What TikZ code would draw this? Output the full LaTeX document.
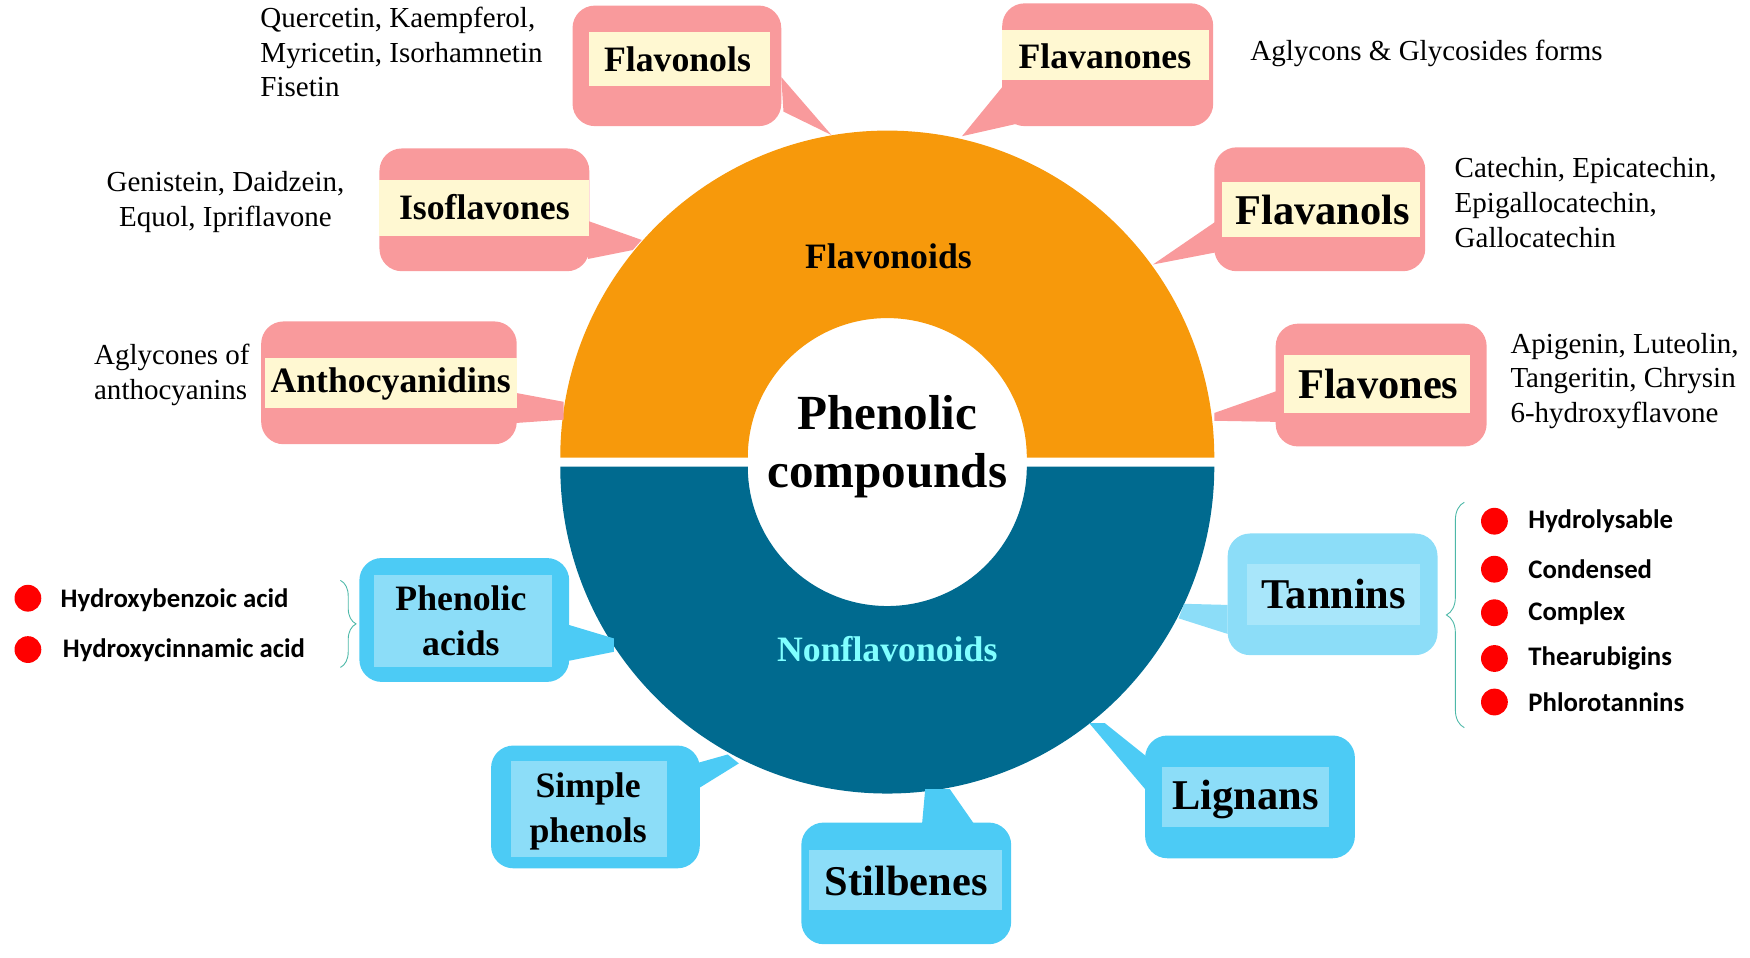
\documentclass[tikz,border=0pt]{standalone}
\usepackage{fontspec}
\setmainfont{Liberation Serif}
\newfontfamily\carlfont{Carlito}
\usetikzlibrary{decorations.pathreplacing}
\definecolor{pinkb}{HTML}{F99A9C}
\definecolor{cream}{HTML}{FFF8D2}
\definecolor{blueb}{HTML}{4CCBF5}
\definecolor{bluel}{HTML}{8CDDF8}
\definecolor{bluet}{HTML}{A8E6FA}
\definecolor{orng}{HTML}{F7990B}
\definecolor{dblue}{HTML}{006A8F}
\definecolor{cyant}{HTML}{80FFFF}
\definecolor{brace}{HTML}{4DB8A8}
\tikzset{
 lab/.style={font=\bfseries\fontsize{16}{18}\selectfont,align=center,inner sep=0},
 big/.style={font=\bfseries\fontsize{19}{21}\selectfont,align=center,inner sep=0},
 plain/.style={font=\fontsize{13}{15.5}\selectfont,inner sep=0},
 lst/.style={font=\carlfont\bfseries\fontsize{12}{14}\selectfont,anchor=west,inner sep=0},
 dot/.style={circle,fill=red,minimum size=12pt,inner sep=0},
}
\begin{document}
\begin{tikzpicture}[x=0.5pt,y=-0.5pt]
\useasboundingbox (0,0) rectangle (1568,858);
% ring
\fill[orng] (1088,410) arc[start angle=0,end angle=-180,radius=293] -- (670,410) arc[start angle=-180,end angle=0,radius=125] -- cycle;
\fill[dblue] (1088,418) arc[start angle=0,end angle=180,radius=293] -- (670,418) arc[start angle=180,end angle=0,radius=125] -- cycle;
\node[font=\bfseries\fontsize{16}{18}\selectfont] (fl) at (796,230) {Flavonoids};
\node[font=\bfseries\fontsize{16}{18}\selectfont,text=cyant] (nf) at (795,582) {Nonflavonoids};
\node[font=\bfseries\fontsize{22}{26}\selectfont,align=center] (pc) at (795,400) {Phenolic\\compounds};
% pink tails
\fill[pinkb] (700,69) -- (745,121) -- (702,100) -- cycle;
\fill[pinkb] (898,78) -- (862,122) -- (915,110) -- cycle;
\fill[pinkb] (527,198) -- (575,215) -- (567,224) -- (527,232) -- cycle;
\fill[pinkb] (462,352) -- (505,360) -- (505,376) -- (462,379) -- cycle;
\fill[pinkb] (1090,198) -- (1033,237) -- (1090,226) -- cycle;
\fill[pinkb] (1145,350) -- (1088,370) -- (1088,377) -- (1145,378) -- cycle;
% pink boxes
\fill[pinkb,rounded corners=10] (513,5) rectangle (700,113);
\fill[cream] (528,29) rectangle (690,77);
\node[lab] (flavonols) at (607,53) {Flavonols};
\fill[pinkb,rounded corners=10] (898,3) rectangle (1087,113);
\fill[cream] (898,27) rectangle (1083,72);
\node[lab] (flavanones) at (990,50) {Flavanones};
\fill[pinkb,rounded corners=10] (340,133) rectangle (528,243);
\fill[cream] (340,161) rectangle (528,211);
\node[lab] (isoflavones) at (434,186) {Isoflavones};
\fill[pinkb,rounded corners=10] (234,288) rectangle (463,398);
\fill[cream] (237,321) rectangle (463,366);
\node[lab] (antho) at (350,344) {Anthocyanidins};
\fill[pinkb,rounded corners=10] (1088,132) rectangle (1277,243);
\fill[cream] (1095,163) rectangle (1272,212);
\node[big] (flavanols) at (1185,188) {Flavanols};
\fill[pinkb,rounded corners=10] (1143,290) rectangle (1332,400);
\fill[cream] (1150,318) rectangle (1317,370);
\node[big] (flavones) at (1235,344) {Flavones};
% side texts
\node[plain,anchor=north west,align=left] (t1) at (233,6) {Quercetin, Kaempferol,\\Myricetin, Isorhamnetin\\Fisetin};
\node[plain,anchor=west] (t2) at (1120,48) {Aglycons \& Glycosides forms};
\node[plain,align=center] (t3) at (202,181) {Genistein, Daidzein,\\Equol, Ipriflavone};
\node[plain,align=left] (t4) at (154,336) {Aglycones of\\anthocyanins};
\node[plain,anchor=north west,align=left] (t5) at (1303,141) {Catechin, Epicatechin,\\Epigallocatechin,\\Gallocatechin};
\node[plain,anchor=north west,align=left] (t6) at (1353,298) {Apigenin, Luteolin,\\Tangeritin, Chrysin\\6-hydroxyflavone};
% blue tails
\fill[blueb] (510,560) -- (550,572) -- (550,584) -- (510,592) -- cycle;
\fill[bluel] (1100,542) -- (1061,541) -- (1056,554) -- (1100,568) -- cycle;
\fill[blueb] (976,648) -- (990,648) -- (1030,680) -- (1026,707) -- cycle;
\fill[blueb] (826,740) -- (829,707) -- (851,707) -- (874,740) -- cycle;
\fill[blueb] (620,685) -- (652,676) -- (662,684) -- (620,710) -- cycle;
% blue boxes
\fill[blueb,rounded corners=10] (322,500) rectangle (510,611);
\fill[bluel] (335,515) rectangle (495,598);
\node[lab] (pa) at (413,556) {Phenolic\\[2pt]acids};
\fill[bluel,rounded corners=10] (1100,478) rectangle (1288,587);
\fill[bluet] (1117,505) rectangle (1272,560);
\node[big] (tannins) at (1195,532) {Tannins};
\fill[blueb,rounded corners=10] (1026,659) rectangle (1214,769);
\fill[bluel] (1041,687) rectangle (1191,741);
\node[big] (lignans) at (1116,716) {Lignans};
\fill[blueb,rounded corners=10] (718,737) rectangle (906,846);
\fill[bluel] (725,762) rectangle (898,815);
\node[big] (stilbenes) at (812,789) {Stilbenes};
\fill[blueb,rounded corners=10] (440,668) rectangle (627,778);
\fill[bluel] (458,682) rectangle (598,768);
\node[lab] (sp) at (527,727) {Simple\\[2pt]phenols};
% tannin list
\draw[brace,thin,decorate,decoration={brace,amplitude=8}] (1312,652) -- (1312,450);
\foreach \y/\t/\n in {467/Hydrolysable/a,510/Condensed/b,549/Complex/c,590/Thearubigins/d,629/Phlorotannins/e}{
  \node[dot] (d\n) at (1339,\y) {};
  \node[lst] (l\n) at (1369,\y) {\t};
}
% phenolic acid list
\draw[brace,thin,decorate,decoration={brace,amplitude=7}] (305,520) -- (305,598);
\node[dot] (da1) at (25,536) {};
\node[lst] (la1) at (54,538) {Hydroxybenzoic acid};
\node[dot] (da2) at (25,582) {};
\node[lst] (la2) at (56,583) {Hydroxycinnamic acid};
\end{tikzpicture}
\end{document}
